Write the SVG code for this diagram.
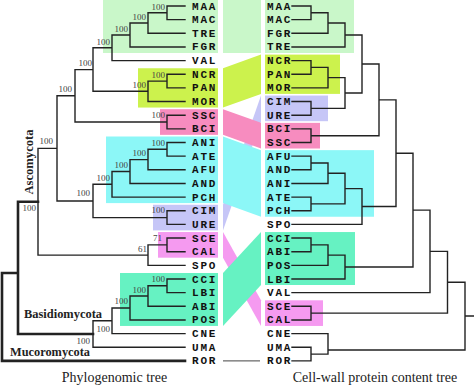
<svg xmlns="http://www.w3.org/2000/svg" width="474" height="387" viewBox="0 0 474 387">
<style>
.t{font-family:"Liberation Mono","DejaVu Sans Mono",monospace;font-weight:bold;font-size:11px;letter-spacing:1.8px;fill:#111}
.b{font-family:"Liberation Serif","Times New Roman",serif;font-size:9px;fill:#444;text-anchor:end}
.e{fill:none;stroke:#222;stroke-width:1.4;stroke-linecap:square}
.k{fill:none;stroke:#222;stroke-width:2.6;stroke-linecap:square}
.cl{font-family:"Liberation Serif","Times New Roman",serif;font-weight:bold;font-size:12px;fill:#222}
.ttl{font-family:"Liberation Serif","Times New Roman",serif;font-size:14px;fill:#222;text-anchor:middle}
.g1{fill:#c9f7c9}.g2{fill:#ccf24d}.g3{fill:#f78cbf}.g4{fill:#8cf7f7}.g5{fill:#c6c6f7}.g6{fill:#f59af0}.g7{fill:#66f2c2}
</style>
<rect width="474" height="387" fill="#fff"/>
<g id="boxes-left">
<rect class="g1" x="103" y="0" width="115" height="53"/>
<rect class="g2" x="138" y="68.25" width="80" height="39.3"/>
<rect class="g3" x="160" y="109.2" width="58" height="25.65"/>
<rect class="g4" x="106" y="136.5" width="112" height="66.6"/>
<rect class="g5" x="153" y="204.75" width="65" height="25.65"/>
<rect class="g6" x="158" y="232.05" width="60" height="25.65"/>
<rect class="g7" x="120" y="273" width="98" height="52.95"/>
</g>
<g id="boxes-right">
<rect class="g1" x="265" y="0" width="89" height="53"/>
<rect class="g2" x="265" y="54.6" width="75" height="39.3"/>
<rect class="g5" x="265" y="95.55" width="63" height="25.65"/>
<rect class="g3" x="265" y="122.85" width="55" height="25.65"/>
<rect class="g4" x="265" y="150.15" width="109" height="66.6"/>
<rect class="g7" x="265" y="232.05" width="90" height="52.95"/>
<rect class="g6" x="265" y="300.3" width="58" height="25.65"/>
</g>
<g id="connectors">
<g id="bands">
<polygon class="g5" points="223,204.75 261,95.55 261,121.2 223,230.4"/>
<polygon class="g6" points="223,232.05 261,300.3 261,325.95 223,257.7"/>
<polygon class="g1" points="223,0 261,0 261,53 223,53"/>
<polygon class="g2" points="223,68.25 261,54.6 261,93.9 223,107.55"/>
<polygon class="g3" points="223,109.2 261,122.85 261,148.5 223,134.85"/>
<polygon class="g4" points="223,136.5 261,150.15 261,216.75 223,203.1"/>
<polygon class="g7" points="223,273 261,232.05 261,285 223,325.95"/>
</g>
<path d="M223 360.9H260" stroke="#444" stroke-width="1"/>
<path class="e" d="M167 6H185M167 19.65H185M148 33.3H185M130 46.95H185M112 60.6H185M167 74.25H185M167 87.9H185M148 101.55H185M167 115.2H185M167 128.85H185M167 142.5H185M167 156.15H185M148 169.8H185M130 183.45H185M112 197.1H185M167 210.75H185M167 224.4H185M167 238.05H185M167 251.7H185M148 265.35H185M167 279H185M167 292.65H185M148 306.3H185M130 319.95H185M112 333.6H185M93 347.25H185
M167 6V19.65M148 12.8H167M148 12.8V33.3M130 23.05H148M130 23.05V46.95M112 35H130M112 35V60.6M93 47.8H112
M167 74.25V87.9M148 81.1H167M148 81.1V101.55M93 91.3H148M93 47.8V91.3M75 69.6H93
M167 115.2V128.85M75 122H167M75 69.6V122M57 95.8H75
M167 142.5V156.15M148 149.3H167M148 149.3V169.8M130 159.6H148M130 159.6V183.45M112 171.5H130M112 171.5V197.1M93 184.3H112
M167 210.75V224.4M93 217.6H167M93 184.3V217.6M57 201H93M57 95.8V201M38 148.4H57
M167 238.05V251.7M148 244.9H167M148 244.9V265.35M38 255.1H148M38 148.4V255.1
M167 279V292.65M148 285.8H167M148 285.8V306.3M130 296H148M130 296V319.95M112 308H130M112 308V333.6M93 320.8H112M93 320.8V347.25"/>
<path class="k" d="M18 201.8H38M18 201.8V334H93M2 273H18M2 273V360.9H185"/>
<path class="e" d="M292 6H311M292 19.65H311M292 33.3H328M292 46.95H345M292 60.6H311M292 74.25H311M292 87.9H328M292 101.55H311M292 115.2H311M292 128.85H311M292 142.5H311M292 156.15H311M292 169.8H311M292 183.45H328M292 197.1H311M292 210.75H311M292 224.4H362M292 238.05H311M292 251.7H311M292 265.35H328M292 279H345M292 292.65H430M292 306.3H311M292 319.95H311M292 333.6H328M292 347.25H311M292 360.9H311
M311 6V19.65M311 12.8H328M328 12.8V33.3M328 23.05H345M345 23.05V46.95M345 35H362
M311 60.6V74.25M311 67.4H328M328 67.4V87.9M328 77.65H345M311 101.55V115.2M311 108.4H345M345 77.65V108.4M345 93H362M362 35V93M362 64H379
M311 128.85V142.5M311 135.7H379M379 64V135.7M379 99.85H396
M311 156.15V169.8M311 163H328M328 163V183.45M328 173.2H345M311 197.1V210.75M311 203.9H345M345 173.2V203.9M345 188.6H362M362 188.6V224.4M362 206.5H396M396 99.85V206.5M396 153.2H413
M311 238.05V251.7M311 244.9H328M328 244.9V265.35M328 255.1H345M345 255.1V279M345 267H413M413 153.2V267M413 210.1H430M430 210.1V292.65M430 251.4H447.5
M311 306.3V319.95M311 313.1H447.5M447.5 251.4V313.1M447.5 282.3H465
M311 347.25V360.9M311 354.1H328M328 333.6V354.1M328 350H465M465 282.3V350M465 316H475"/>
</g>
<g id="bootstrap">
<text class="b" x="165" y="10">100</text>
<text class="b" x="146" y="20">100</text>
<text class="b" x="128" y="32">100</text>
<text class="b" x="110" y="45">100</text>
<text class="b" x="92" y="66">100</text>
<text class="b" x="165" y="78">100</text>
<text class="b" x="146" y="88">100</text>
<text class="b" x="72" y="92">100</text>
<text class="b" x="165" y="118">100</text>
<text class="b" x="53" y="144">100</text>
<text class="b" x="165" y="146">100</text>
<text class="b" x="146" y="156">100</text>
<text class="b" x="128" y="168">100</text>
<text class="b" x="110" y="181">100</text>
<text class="b" x="90" y="196">100</text>
<text class="b" x="165" y="213">100</text>
<text class="b" x="162" y="241">71</text>
<text class="b" x="147" y="252">61</text>
<text class="b" x="36" y="211">100</text>
<text class="b" x="165" y="282">100</text>
<text class="b" x="146" y="293">100</text>
<text class="b" x="128" y="304">100</text>
<text class="b" x="110" y="332">100</text>
<text class="b" x="90" y="344">100</text>
</g>
<g id="left-taxa">
<g id="l-MAA"><text class="t" x="192" y="9.5">MAA</text></g>
<g id="l-MAC"><text class="t" x="192" y="23.15">MAC</text></g>
<g id="l-TRE"><text class="t" x="192" y="36.8">TRE</text></g>
<g id="l-FGR"><text class="t" x="192" y="50.45">FGR</text></g>
<g id="l-VAL"><text class="t" x="192" y="64.1">VAL</text></g>
<g id="l-NCR"><text class="t" x="192" y="77.75">NCR</text></g>
<g id="l-PAN"><text class="t" x="192" y="91.4">PAN</text></g>
<g id="l-MOR"><text class="t" x="192" y="105.05">MOR</text></g>
<g id="l-SSC"><text class="t" x="192" y="118.7">SSC</text></g>
<g id="l-BCI"><text class="t" x="192" y="132.35">BCI</text></g>
<g id="l-ANI"><text class="t" x="192" y="146">ANI</text></g>
<g id="l-ATE"><text class="t" x="192" y="159.65">ATE</text></g>
<g id="l-AFU"><text class="t" x="192" y="173.3">AFU</text></g>
<g id="l-AND"><text class="t" x="192" y="186.95">AND</text></g>
<g id="l-PCH"><text class="t" x="192" y="200.6">PCH</text></g>
<g id="l-CIM"><text class="t" x="192" y="214.25">CIM</text></g>
<g id="l-URE"><text class="t" x="192" y="227.9">URE</text></g>
<g id="l-SCE"><text class="t" x="192" y="241.55">SCE</text></g>
<g id="l-CAL"><text class="t" x="192" y="255.2">CAL</text></g>
<g id="l-SPO"><text class="t" x="192" y="268.85">SPO</text></g>
<g id="l-CCI"><text class="t" x="192" y="282.5">CCI</text></g>
<g id="l-LBI"><text class="t" x="192" y="296.15">LBI</text></g>
<g id="l-ABI"><text class="t" x="192" y="309.8">ABI</text></g>
<g id="l-POS"><text class="t" x="192" y="323.45">POS</text></g>
<g id="l-CNE"><text class="t" x="192" y="337.1">CNE</text></g>
<g id="l-UMA"><text class="t" x="192" y="350.75">UMA</text></g>
<g id="l-ROR"><text class="t" x="192" y="364.4">ROR</text></g>
</g>
<g id="right-taxa">
<g id="r-MAA"><text class="t" x="267" y="9.5">MAA</text></g>
<g id="r-MAC"><text class="t" x="267" y="23.15">MAC</text></g>
<g id="r-FGR"><text class="t" x="267" y="36.8">FGR</text></g>
<g id="r-TRE"><text class="t" x="267" y="50.45">TRE</text></g>
<g id="r-NCR"><text class="t" x="267" y="64.1">NCR</text></g>
<g id="r-PAN"><text class="t" x="267" y="77.75">PAN</text></g>
<g id="r-MOR"><text class="t" x="267" y="91.4">MOR</text></g>
<g id="r-CIM"><text class="t" x="267" y="105.05">CIM</text></g>
<g id="r-URE"><text class="t" x="267" y="118.7">URE</text></g>
<g id="r-BCI"><text class="t" x="267" y="132.35">BCI</text></g>
<g id="r-SSC"><text class="t" x="267" y="146">SSC</text></g>
<g id="r-AFU"><text class="t" x="267" y="159.65">AFU</text></g>
<g id="r-AND"><text class="t" x="267" y="173.3">AND</text></g>
<g id="r-ANI"><text class="t" x="267" y="186.95">ANI</text></g>
<g id="r-ATE"><text class="t" x="267" y="200.6">ATE</text></g>
<g id="r-PCH"><text class="t" x="267" y="214.25">PCH</text></g>
<g id="r-SPO"><text class="t" x="267" y="227.9">SPO</text></g>
<g id="r-CCI"><text class="t" x="267" y="241.55">CCI</text></g>
<g id="r-ABI"><text class="t" x="267" y="255.2">ABI</text></g>
<g id="r-POS"><text class="t" x="267" y="268.85">POS</text></g>
<g id="r-LBI"><text class="t" x="267" y="282.5">LBI</text></g>
<g id="r-VAL"><text class="t" x="267" y="296.15">VAL</text></g>
<g id="r-SCE"><text class="t" x="267" y="309.8">SCE</text></g>
<g id="r-CAL"><text class="t" x="267" y="323.45">CAL</text></g>
<g id="r-CNE"><text class="t" x="267" y="337.1">CNE</text></g>
<g id="r-UMA"><text class="t" x="267" y="350.75">UMA</text></g>
<g id="r-ROR"><text class="t" x="267" y="364.4">ROR</text></g>
</g>
<g id="clades">
<text class="cl" transform="translate(33,162) rotate(-90)" text-anchor="middle" textLength="65" lengthAdjust="spacingAndGlyphs">Ascomycota</text>
<text class="cl" x="24" y="318" textLength="78" lengthAdjust="spacingAndGlyphs">Basidiomycota</text>
<text class="cl" x="10" y="356" textLength="80" lengthAdjust="spacingAndGlyphs">Mucoromycota</text>
</g>
<g id="titles">
<text class="ttl" x="114.5" y="382">Phylogenomic tree</text>
<text class="ttl" x="375" y="382">Cell-wall protein content tree</text>
</g>
</svg>
